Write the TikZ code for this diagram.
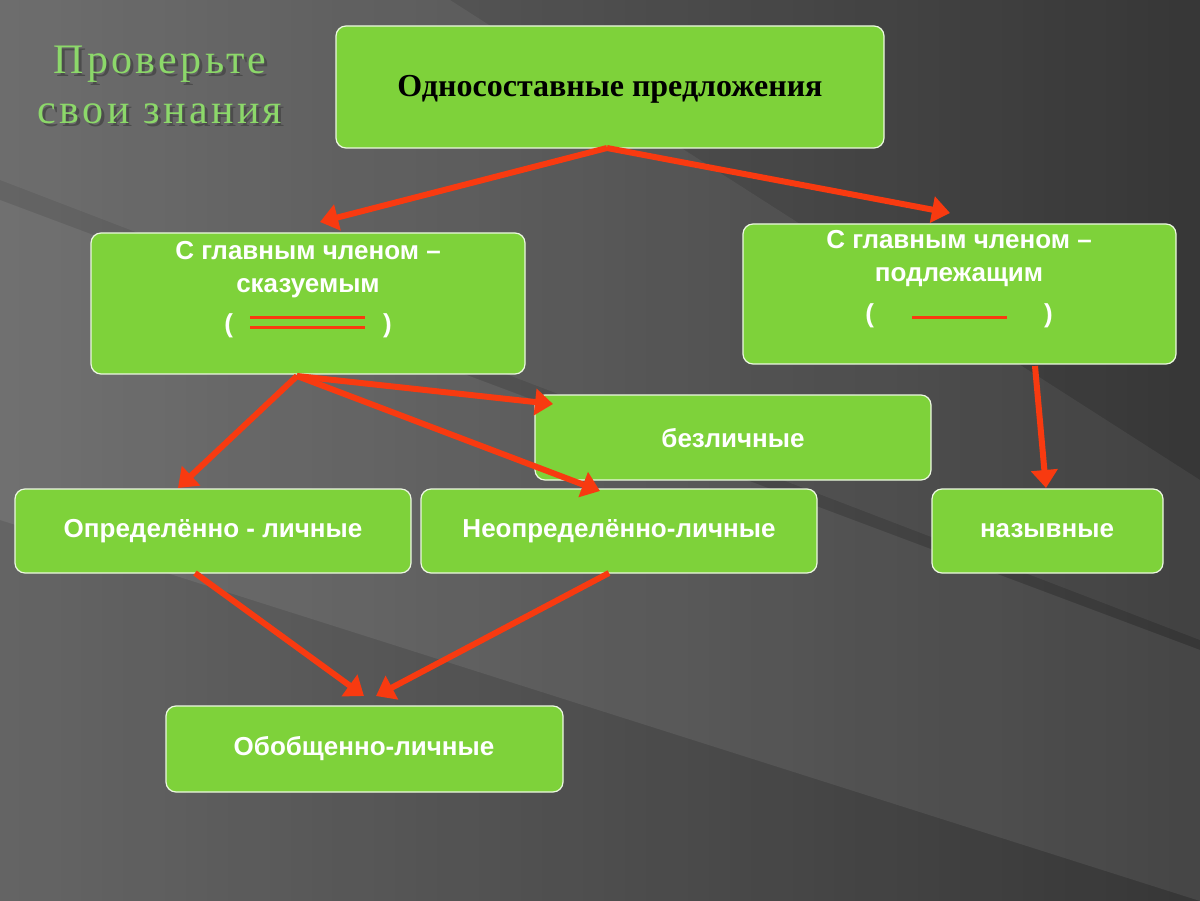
\documentclass[tikz,border=0pt]{standalone}
\usepackage{fontspec}
\setmainfont{Liberation Serif}
\setsansfont{Liberation Sans}
\usetikzlibrary{arrows.meta}
\definecolor{gbox}{HTML}{7ED23A}
\definecolor{arr}{HTML}{F83A10}
\definecolor{ttl}{HTML}{8CD86A}
\begin{document}
\begin{tikzpicture}[x=1pt,y=-1pt,
  box/.style={draw=white!85!gbox,line width=1.2pt,fill=gbox,rounded corners=10pt,inner sep=0pt},
  wt/.style={text=white,font=\sffamily\bfseries\fontsize{26}{33}\selectfont,align=center},
  ar/.style={draw=arr,line width=6pt,-{Triangle[length=18pt,width=26pt]}},
  tt/.style={font=\fontsize{42}{50}\selectfont,align=center}]
\fill[black!72] (0,0) rectangle (1200,901);
\shade[left color=gray!85!black,right color=black!80,opacity=0.8] (0,0) rectangle (1200,901);
\fill[white,opacity=0.08] (0,200) -- (1200,650) -- (1200,901) -- (0,520) -- cycle;
\fill[white,opacity=0.06] (0,0) -- (450,0) -- (1200,480) -- (1200,640) -- (0,180) -- cycle;
\useasboundingbox (0,0) rectangle (1200,901);
% title
\node[tt,text=black!70] at (163,88) {\addfontfeature{LetterSpace=8}Проверьте\\\addfontfeature{LetterSpace=8}свои знания};
\node[tt,text=ttl] (title) at (160,85) {\addfontfeature{LetterSpace=8}Проверьте\\\addfontfeature{LetterSpace=8}свои знания};
% boxes
\draw[box] (336,26) rectangle (884,148);
\node (top) at (610,89) {\bfseries\fontsize{32}{38}\selectfont Односоставные предложения};
\draw[box] (91,233) rectangle (525,374);
\node[wt] (sk) at (308,270) {С главным членом –\\сказуемым};
\node[wt] (skp) at (308,326) {(\hspace{150pt})};
\draw[arr,line width=3pt] (250,318) -- (365,318) (250,328) -- (365,328);
\draw[box] (743,224) rectangle (1176,364);
\node[wt] (pd) at (959,259) {С главным членом –\\подлежащим};
\node[wt] (pdp) at (959,316) {(\hspace{170pt})};
\draw[arr,line width=3pt] (912,318) -- (1007,318);
\draw[box] (535,395) rectangle (931,480);
\node[wt] (bez) at (733,438) {безличные};
\draw[box] (15,489) rectangle (411,573);
\node[wt] (opr) at (213,531) {Определённо - личные};
\draw[box] (421,489) rectangle (817,573);
\node[wt] (neo) at (619,531) {Неопределённо-личные};
\draw[box] (932,489) rectangle (1163,573);
\node[wt] (naz) at (1047,531) {назывные};
\draw[box] (166,706) rectangle (563,792);
\node[wt] (obo) at (364,749) {Обобщенно-личные};
% arrows
\coordinate (a0) at (607,148);
\coordinate (a1) at (297,376);
\coordinate (a2) at (1035,366);
\coordinate (a3) at (195,573);
\coordinate (a4) at (609,573);
\coordinate (e1) at (320,222);
\coordinate (e2) at (950,213);
\coordinate (e3) at (178,488);
\coordinate (e4) at (553,404);
\coordinate (e5) at (600,491);
\coordinate (e6) at (1046,488);
\coordinate (e7) at (364,696);
\coordinate (e8) at (376,696);
\draw[ar] (a0) -- (e1);
\draw[ar] (a0) -- (e2);
\draw[ar] (a1) -- (e3);
\draw[ar] (a1) -- (e4);
\draw[ar] (a1) -- (e5);
\draw[ar] (a2) -- (e6);
\draw[ar] (a3) -- (e7);
\draw[ar] (a4) -- (e8);
\end{tikzpicture}
\end{document}
